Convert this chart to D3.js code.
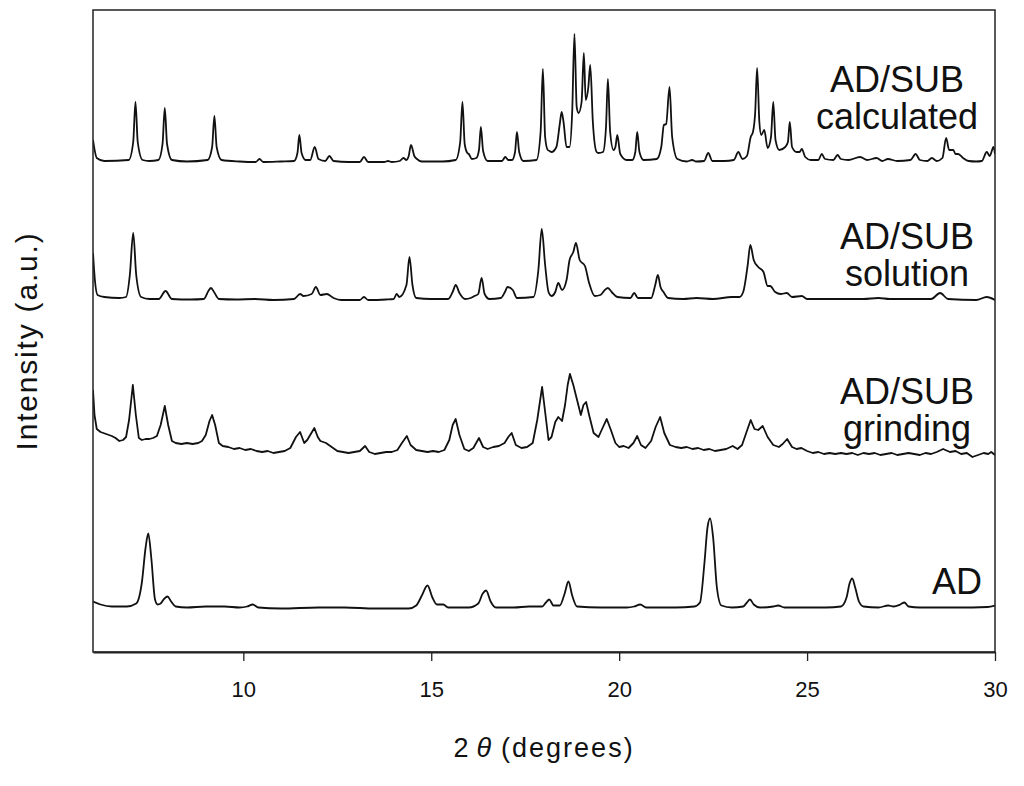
<!DOCTYPE html>
<html>
<head>
<meta charset="utf-8">
<script src="https://cdn.jsdelivr.net/npm/d3@7/dist/d3.min.js"></script>
<style>
  body { margin: 0; background: #fff; }
  svg { display: block; }
  text { font-family: "Liberation Sans", Arial, sans-serif; fill: #111; }
</style>
</head>
<body>
<div id="chart"></div>
<script>
// [2theta, intensity above the trace's own baseline]
var calcPattern = [
  [6.0,22],[6.1,4],[6.3,1],[6.95,2],[7.07,20],[7.13,60],[7.19,20],[7.32,2],[7.5,1],
  [7.74,2],[7.85,18],[7.91,54],[7.97,18],[8.1,2],[8.5,0.5],[9.05,2],[9.17,15],[9.23,46],
  [9.29,15],[9.42,2],[9.9,0.5],[10.33,0],[10.43,3],[10.53,0],[11.0,0.5],[11.35,1],[11.44,9],
  [11.49,27],[11.55,9],[11.66,2],[11.78,2],[11.9,15],[12.0,3],[12.18,1],[12.29,6],[12.4,1],
  [12.8,0],[13.1,0],[13.21,5],[13.32,0],[13.75,0],[13.85,1],[13.95,0],[14.16,1],[14.26,4],
  [14.34,2],[14.4,6],[14.46,17],[14.55,6],[14.62,3],[14.75,0.5],[15.3,0.5],[15.65,2],[15.77,20],
  [15.83,60],[15.89,18],[15.96,9],[16.0,8],[16.08,3],[16.2,4],[16.27,12],[16.32,35],[16.38,11],
  [16.5,1],[16.88,1],[16.97,5],[17.05,2],[17.15,2],[17.23,10],[17.28,30],[17.34,10],[17.45,1],
  [17.8,2],[17.91,30],[17.97,93],[18.03,25],[18.1,12],[18.15,11],[18.2,10],[18.33,15],[18.42,38],
  [18.47,50],[18.52,40],[18.6,15],[18.68,15],[18.75,50],[18.81,128],[18.87,55],[18.92,49],[19.0,60],
  [19.06,109],[19.11,62],[19.18,75],[19.23,97],[19.3,40],[19.4,10],[19.45,9],[19.57,10],[19.65,35],
  [19.7,83],[19.76,30],[19.85,12],[19.9,15],[19.95,27],[20.03,8],[20.2,2],[20.35,2],[20.43,10],
  [20.48,30],[20.54,10],[20.65,2],[21.0,3],[21.12,15],[21.19,37],[21.25,38],[21.34,75],[21.41,25],
  [21.55,3],[21.8,0.5],[21.94,2],[22.05,0.5],[22.26,1],[22.37,9],[22.48,1],[22.8,1],[23.05,2],
  [23.17,10],[23.28,3],[23.4,6],[23.5,25],[23.56,30],[23.62,50],[23.67,94],[23.73,40],[23.78,27],
  [23.86,32],[23.95,14],[24.04,25],[24.1,60],[24.16,22],[24.26,12],[24.42,15],[24.49,20],[24.54,40],
  [24.6,15],[24.72,10],[24.8,10],[24.86,13],[24.95,5],[25.1,2],[25.3,2],[25.39,8],[25.48,3],
  [25.7,2],[25.81,7],[25.9,3],[26.1,2],[26.41,5],[26.6,2],[26.85,4],[27.0,1],[27.15,3],[27.4,1],
  [27.75,2],[27.89,8],[28.0,2],[28.2,1],[28.32,4],[28.45,1],[28.6,4],[28.7,24],[28.78,12],
  [28.89,12],[28.95,8],[29.02,8],[29.15,4],[29.3,1],[29.5,0.5],[29.65,1],[29.78,10],[29.86,6],
  [29.96,15],[30.0,8]
];

var solutionPattern = [
  [6.0,47],[6.05,20],[6.12,5],[6.3,3],[6.7,2],[6.88,3],[6.98,25],[7.07,67],[7.15,25],[7.28,3],
  [7.5,1],[7.75,1],[7.93,9],[8.1,1],[8.6,0.5],[8.95,1],[9.07,9],[9.14,12],[9.22,8],[9.35,1],
  [9.8,0.5],[10.31,1],[10.8,0],[11.35,1],[11.51,6],[11.6,4],[11.82,6],[11.93,13],[12.05,5],
  [12.22,6],[12.4,2],[12.6,0],[13.1,0],[13.21,3],[13.32,0],[13.8,0.5],[14.0,1],[14.08,6],
  [14.15,3],[14.34,15],[14.42,43],[14.5,15],[14.6,2],[15.0,1],[15.45,1],[15.58,9],[15.65,15],
  [15.75,7],[15.9,1],[16.05,2],[16.15,4],[16.25,6],[16.34,22],[16.42,6],[16.55,1],[16.85,2],
  [16.96,8],[17.03,13],[17.17,10],[17.28,2],[17.72,3],[17.85,30],[17.94,71],[18.03,35],[18.12,8],
  [18.2,4],[18.3,8],[18.38,17],[18.48,10],[18.6,20],[18.68,40],[18.78,48],[18.85,57],[18.95,40],
  [19.09,34],[19.2,17],[19.35,4],[19.5,5],[19.62,10],[19.7,12],[19.8,8],[19.95,3],[20.3,2],
  [20.4,7],[20.5,2],[20.85,2],[20.96,15],[21.03,25],[21.1,13],[21.18,8],[21.3,2],[21.7,1],
  [22.06,2],[22.5,1],[23.0,3],[23.2,3],[23.3,8],[23.42,35],[23.49,55],[23.58,40],[23.7,33],
  [23.84,28],[23.95,14],[24.02,14],[24.15,8],[24.3,6],[24.46,7],[24.6,3],[24.86,4],[25.0,1],
  [25.8,1],[26.5,1],[26.9,2],[27.2,1],[28.3,1],[28.54,7],[28.75,1],[29.5,0],[29.78,3],[30.0,0]
];

var grindingPattern = [
  [6.0,65],[6.04,40],[6.1,26],[6.2,23],[6.35,21],[6.5,19],[6.6,17],[6.7,14],[6.8,15],[6.88,18],
  [6.96,35],[7.06,70],[7.14,40],[7.22,17],[7.3,15],[7.4,16],[7.5,16],[7.6,17],[7.7,19],[7.8,30],
  [7.91,49],[8.0,30],[8.1,14],[8.2,12],[8.35,11],[8.5,12],[8.65,11],[8.8,12],[8.9,14],[9.0,20],
  [9.1,34],[9.17,40],[9.25,30],[9.35,12],[9.45,9],[9.6,8],[9.75,6],[9.9,7],[10.05,5],[10.2,6],
  [10.35,4],[10.5,3],[10.65,4],[10.8,2],[10.95,3],[11.1,4],[11.25,7],[11.4,18],[11.51,23],
  [11.62,12],[11.7,15],[11.89,27],[11.98,18],[12.05,14],[12.2,12],[12.35,8],[12.5,4],[12.65,3],
  [12.8,2],[12.95,3],[13.1,4],[13.24,9],[13.35,3],[13.5,1],[13.65,2],[13.8,3],[13.95,3],[14.1,5],
  [14.22,12],[14.35,19],[14.45,10],[14.6,5],[14.75,4],[14.9,3],[15.05,4],[15.2,3],[15.35,5],
  [15.48,15],[15.57,30],[15.65,36],[15.75,20],[15.88,6],[16.0,4],[16.12,7],[16.27,17],[16.38,8],
  [16.5,6],[16.65,8],[16.8,9],[16.95,12],[17.05,18],[17.14,22],[17.25,10],[17.4,7],[17.55,8],
  [17.7,12],[17.82,35],[17.95,68],[18.04,40],[18.12,15],[18.2,18],[18.3,33],[18.38,38],[18.48,34],
  [18.56,50],[18.63,70],[18.69,81],[18.78,70],[18.88,55],[18.98,40],[19.05,50],[19.12,53],[19.2,40],
  [19.32,22],[19.45,18],[19.57,28],[19.67,36],[19.78,25],[19.9,12],[20.0,8],[20.12,9],[20.25,7],
  [20.38,12],[20.48,19],[20.58,10],[20.7,7],[20.85,14],[20.97,28],[21.09,38],[21.2,22],[21.35,10],
  [21.5,8],[21.65,7],[21.8,8],[21.95,6],[22.1,7],[22.25,5],[22.4,6],[22.55,4],[22.7,5],[22.85,6],
  [23.02,9],[23.15,6],[23.27,10],[23.38,22],[23.5,35],[23.6,26],[23.7,25],[23.82,29],[23.95,18],
  [24.1,10],[24.25,8],[24.35,11],[24.47,16],[24.6,8],[24.72,6],[24.85,7],[25.0,4],[25.15,2],
  [25.3,3],[25.45,1],[25.6,2],[25.75,1],[25.9,2],[26.05,1],[26.2,2],[26.35,0],[26.5,2],[26.65,1],
  [26.8,2],[26.95,0],[27.1,1],[27.25,2],[27.4,0],[27.55,1],[27.7,2],[27.85,1],[28.0,0],[28.15,2],
  [28.3,1],[28.45,3],[28.62,6],[28.8,3],[28.95,4],[29.1,1],[29.25,2],[29.4,-2],[29.55,0],[29.7,2],
  [29.82,1],[29.9,3],[30.0,0]
];

var adPattern = [
  [6.0,6],[6.2,3],[6.5,1],[6.9,1],[7.15,4],[7.3,25],[7.4,60],[7.47,74],[7.55,50],[7.65,8],
  [7.72,3],[7.8,4],[7.9,9],[7.98,11],[8.08,6],[8.2,1],[8.5,0],[9.0,1],[9.5,1],[9.9,0],[10.1,1],
  [10.25,3],[10.4,0],[11.0,-1],[12.0,0],[12.7,0],[13.5,-1],[14.4,-1],[14.6,2],[14.75,12],
  [14.9,22],[15.03,10],[15.15,3],[15.32,3],[15.45,0],[16.0,0],[16.25,4],[16.37,14],[16.46,17],
  [16.58,6],[16.72,0],[17.2,0],[17.6,1],[17.95,1],[18.05,5],[18.14,8],[18.25,2],[18.42,2],
  [18.55,14],[18.65,26],[18.75,12],[18.88,1],[19.5,0],[20.2,0],[20.4,1],[20.56,3],[20.72,0],
  [21.5,0],[22.0,1],[22.15,5],[22.27,45],[22.35,80],[22.42,89],[22.5,70],[22.6,20],[22.72,2],
  [23.0,0],[23.3,1],[23.4,5],[23.48,8],[23.58,3],[23.75,0],[24.1,1],[24.23,2],[24.4,0],[25.5,0],
  [25.9,1],[26.05,10],[26.13,24],[26.2,29],[26.28,20],[26.38,6],[26.5,1],[26.9,0],[27.16,2],
  [27.3,1],[27.48,3],[27.59,5],[27.7,1],[28.0,0],[29.0,0],[29.8,0.5],[30.0,2]
];

var patterns = [calcPattern, solutionPattern, grindingPattern, adPattern];
var offsets = [490, 352, 197, 44.5];          // vertical stacking offsets (a.u.)
var labelLines = [["AD/SUB", "calculated"], ["AD/SUB", "solution"], ["AD/SUB", "grinding"], ["AD"]];
var xTicks = [10, 15, 20, 25, 30];

var width = 1024, height = 786;
var margin = {top: 10, right: 29, bottom: 134, left: 93};
var plotW = width - margin.left - margin.right;
var plotH = height - margin.top - margin.bottom;

var svg = d3.select("#chart").append("svg")
  .attr("width", width)
  .attr("height", height);

var x = d3.scaleLinear().domain([6, 30]).range([0, plotW]);
var y = d3.scaleLinear().domain([0, 642]).range([plotH, 0]);

var g = svg.append("g").attr("transform", "translate(" + margin.left + "," + margin.top + ")");

g.append("defs").append("clipPath").attr("id", "clip")
  .append("rect").attr("width", plotW).attr("height", plotH);

// patterns
var traces = g.append("g").attr("clip-path", "url(#clip)");
patterns.forEach(function(p, i) {
  var line = d3.line()
    .x(function(d) { return x(d[0]); })
    .y(function(d) { return y(d[1] + offsets[i]); })
    .curve(i == 2 ? d3.curveLinear : d3.curveMonotoneX);
  traces.append("path")
    .datum(p)
    .attr("fill", "none")
    .attr("stroke", "#111")
    .attr("stroke-width", 1.8)
    .attr("stroke-linejoin", "round")
    .attr("d", line);
});

// frame
g.append("rect")
  .attr("width", plotW)
  .attr("height", plotH)
  .attr("fill", "none")
  .attr("stroke", "#222")
  .attr("stroke-width", 1.5);

// x axis
var xAxis = g.append("g")
  .attr("transform", "translate(0," + plotH + ")")
  .call(d3.axisBottom(x).tickValues(xTicks).tickSize(9).tickSizeOuter(0)
    .tickPadding(20).tickFormat(d3.format("d")));
xAxis.select(".domain").attr("stroke-width", 2).attr("stroke", "#222");
xAxis.selectAll(".tick line").attr("stroke", "#222").attr("stroke-width", 1.3);
xAxis.selectAll(".tick text")
  .style("font-family", "'Liberation Sans', Arial, sans-serif")
  .style("font-size", "22px")
  .attr("fill", "#111");

// labels for each pattern
var labelX = [897, 907, 907, 957];
var labelY = [92, 249, 404, 594];
labelLines.forEach(function(lines, i) {
  var t = svg.append("text")
    .attr("text-anchor", "middle")
    .style("font-size", "36px");
  lines.forEach(function(s, k) {
    t.append("tspan")
      .attr("x", labelX[i])
      .attr("y", labelY[i] + k * 37)
      .text(s);
  });
});

// axis titles
var xt = svg.append("text")
  .attr("x", margin.left + plotW / 2)
  .attr("y", 757)
  .attr("text-anchor", "middle")
  .style("font-size", "27px")
  .style("letter-spacing", "2px");
xt.append("tspan").text("2");
xt.append("tspan").attr("dx", 6).style("font-style", "italic").text("θ");
xt.append("tspan").attr("dx", 8).text("(degrees)");

svg.append("text")
  .attr("transform", "translate(37," + (margin.top + plotH / 2 + 10) + ") rotate(-90)")
  .attr("text-anchor", "middle")
  .style("font-size", "30px")
  .style("letter-spacing", "1.8px")
  .text("Intensity (a.u.)");
</script>
</body>
</html>
